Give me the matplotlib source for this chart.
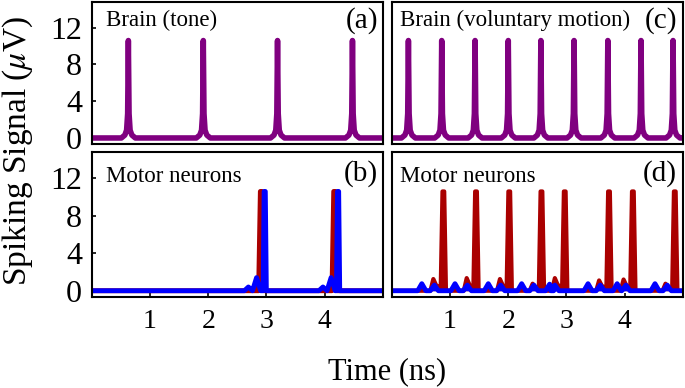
import numpy as np
import matplotlib
matplotlib.use('Agg')
import matplotlib.pyplot as plt

plt.rcParams['font.family'] = 'serif'
plt.rcParams['font.serif'] = ['Liberation Serif', 'DejaVu Serif']
plt.rcParams['mathtext.fontset'] = 'stix'

# spike times (ns)
tone_spikes = [0.628, 1.915, 3.19, 4.477]
motion_spikes = [0.285, 0.857, 1.43, 2.0, 2.56, 3.13, 3.71, 4.28, 4.83]
peak = 10.6

# (b) motor neurons, tone
b_red_spikes = [2.91, 4.17]
b_blue_spikes = [2.97, 4.23]
b_blue_bumps = [2.69, 2.83, 3.97, 4.11]
b_blue_bump_h = [0.4, 1.4, 0.4, 1.4]

# (d) motor neurons, voluntary motion
d_red_spikes = [0.885, 1.446, 2.017, 2.57, 2.97, 3.73, 4.14, 4.86]
d_red_pre = [0.713, 1.286, 1.857, 2.418, 2.80, 3.56, 3.98, 4.70]
d_red_pre_h = [1.25, 1.35, 1.25, 0.75, 1.35, 1.1, 1.2, 0.75]
d_blue_bumps = [0.515, 0.73, 1.085, 1.297, 1.657, 1.87, 2.23, 2.44, 2.71, 2.80,
                3.37, 3.58, 3.87, 4.02, 4.52, 4.73]
d_blue_bump_h = [0.75, 0.6, 0.75, 0.6, 0.75, 0.6, 0.75, 0.6, 0.7, 0.6,
                 0.75, 0.6, 0.75, 0.6, 0.75, 0.6]

# pulse shapes (offset in ns, relative height)
soma_off = [-0.12, -0.06, -0.03, -0.012, 0, 0.012, 0.03, 0.06, 0.12]
soma_rel = [0, 0.03, 0.08, 0.25, 1, 0.25, 0.08, 0.03, 0]
flat_off = [-0.045, -0.015, 0.015, 0.045]
flat_rel = [0, 1, 1, 0]
thin_off = [-0.028, -0.01, 0.01, 0.028]
bump_off = [-0.07, 0, 0.07]
bump_rel = [0, 1, 0]

t0, t1 = 0.0, 5.0
purple = '#800080'
red = '#aa0000'
blue = '#0000ff'


def trace(times, heights, off, rel):
    xs, ys = [t0], [0.0]
    for t, h in sorted(zip(times, heights)):
        for o, r in zip(off, rel):
            xs.append(t + o)
            ys.append(h * r)
    xs.append(t1)
    ys.append(0.0)
    return np.array(xs), np.array(ys)


def merge(*parts):
    x = np.concatenate([p[0] for p in parts])
    y = np.concatenate([p[1] for p in parts])
    i = np.argsort(x, kind='stable')
    return x[i], y[i]


def burst_trace(pre, pre_h, main):
    # small precursor that runs into the main spike
    xs, ys = [t0], [0.0]
    for p, h, t in zip(pre, pre_h, main):
        xs += [p - 0.05, p, p + 0.05, t - 0.045, t - 0.015, t + 0.015, t + 0.045]
        ys += [0, h, 0.45 * h, 0.3 * h, peak, peak, 0]
    xs.append(t1)
    ys.append(0.0)
    return np.array(xs), np.array(ys)


fig = plt.figure(figsize=(6.85, 3.88), dpi=100)
L, M1, M2, R = 0.134, 0.559, 0.572, 0.997
T1, B1, T2, B2 = 0.995, 0.629, 0.608, 0.235
ax_a = fig.add_axes([L, B1, M1 - L, T1 - B1])
ax_c = fig.add_axes([M2, B1, R - M2, T1 - B1])
ax_b = fig.add_axes([L, B2, M1 - L, T2 - B2])
ax_d = fig.add_axes([M2, B2, R - M2, T2 - B2])

x, y = trace(tone_spikes, [peak] * len(tone_spikes), soma_off, soma_rel)
ax_a.plot(x, y, color=purple, lw=4)
x, y = trace(motion_spikes, [peak] * len(motion_spikes), soma_off, soma_rel)
ax_c.plot(x, y, color=purple, lw=4)

# (b)
x, y = trace(b_red_spikes, [peak] * 2, flat_off, flat_rel)
ax_b.plot(x, y, color=red, lw=3.5)
x, y = merge(trace(b_blue_spikes, [peak] * 2, thin_off, flat_rel),
             trace(b_blue_bumps, b_blue_bump_h, bump_off, bump_rel))
ax_b.fill_between(x, 0, y, color=blue, lw=0)
ax_b.plot(x, y, color=blue, lw=3.5)

# (d)
x, y = burst_trace(d_red_pre, d_red_pre_h, d_red_spikes)
ax_d.fill_between(x, 0, y, color=red, lw=0)
ax_d.plot(x, y, color=red, lw=3.0)
x, y = trace(d_blue_bumps, d_blue_bump_h, bump_off, bump_rel)
ax_d.fill_between(x, 0, y, color=blue, lw=0)
ax_d.plot(x, y, color=blue, lw=3.5)

for ax in (ax_a, ax_b, ax_c, ax_d):
    ax.set_xlim(t0, t1)
    ax.set_ylim(-0.65, 14.8)
    for s in ax.spines.values():
        s.set_linewidth(1.5)
    ax.tick_params(direction='in', length=3, width=1.2, labelsize=23, pad=7)
    ax.set_yticks([0, 4, 8, 12])
    ax.set_xticks([1, 2, 3, 4])
    ax.tick_params(axis='x', labelsize=20, pad=9)

for ax in (ax_a, ax_c):
    ax.tick_params(axis='x', bottom=False, labelbottom=False)
for ax in (ax_c, ax_d):
    ax.tick_params(axis='y', left=False, labelleft=False)

ax_a.text(0.05, 0.87, 'Brain (tone)', transform=ax_a.transAxes, fontsize=16.5, va='center')
ax_a.text(0.983, 0.87, '(a)', transform=ax_a.transAxes, fontsize=21, va='center', ha='right')
ax_c.text(0.027, 0.87, 'Brain (voluntary motion)', transform=ax_c.transAxes, fontsize=16.5, va='center')
ax_c.text(0.98, 0.87, '(c)', transform=ax_c.transAxes, fontsize=21, va='center', ha='right')
ax_b.text(0.05, 0.83, 'Motor neurons', transform=ax_b.transAxes, fontsize=16.5, va='center')
ax_b.text(0.983, 0.855, '(b)', transform=ax_b.transAxes, fontsize=21, va='center', ha='right')
ax_d.text(0.027, 0.83, 'Motor neurons', transform=ax_d.transAxes, fontsize=16.5, va='center')
ax_d.text(0.98, 0.855, '(d)', transform=ax_d.transAxes, fontsize=21, va='center', ha='right')

fig.text(0.565, 0.041, 'Time (ns)', fontsize=22, ha='center', va='center')
fig.text(0.026, 0.61, r'Spiking Signal ($\mu$V)', fontsize=24, ha='center', va='center',
         rotation=90)

fig.savefig('out.png', dpi=100)
